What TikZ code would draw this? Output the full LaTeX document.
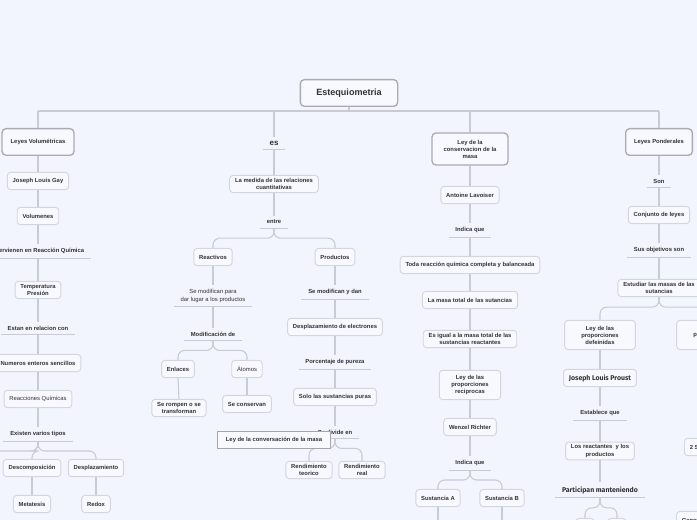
\documentclass[tikz,border=0pt]{standalone}
\usepackage{fontspec}
\setmainfont{Liberation Sans}
\newfontfamily\fira{Fira Sans}
\definecolor{bg}{HTML}{F2F5FD}
\definecolor{boxc}{HTML}{D3D6DE}
\definecolor{boxf}{HTML}{F7F9FF}
\definecolor{linec}{HTML}{C8CBD3}
\definecolor{txt}{HTML}{333333}
\tikzset{
 bx/.style={draw=boxc,fill=boxf,rounded corners=2.5pt,line width=0.7pt,inner xsep=4pt,inner ysep=2pt,minimum height=13pt,align=center,font=\fontsize{4.4}{5.3}\selectfont\bfseries,text=txt},
 bxn/.style={bx,font=\fontsize{4.4}{5.3}\selectfont},
 big/.style={bx,draw=boxc!80!black,line width=1pt,rounded corners=3pt,minimum height=20pt},
 lbl/.style={inner xsep=5pt,inner ysep=3pt,align=center,font=\fontsize{4.4}{5.3}\selectfont\bfseries,text=txt,
   append after command={(\tikzlastnode.south west) edge[draw=linec,line width=0.7pt] (\tikzlastnode.south east)}},
 conn/.style={draw=linec,line width=0.8pt,rounded corners=5pt},
}
\newcommand{\cn}[2]{\draw[conn] (#1.south) -- (#2.north);}
\newcommand{\fk}[3]{\draw[conn] (#1.south) -- ++(0,#3) -| (#2.north);}
\begin{document}
\begin{tikzpicture}[x=0.75pt,y=-0.75pt]
\fill[bg] (0,0) rectangle (697,520);
\useasboundingbox (0,0) rectangle (697,520);
\begin{scope}
\clip (0,0) rectangle (697,520);
% root
\node[big,font=\fontsize{6.8}{8}\selectfont\bfseries,minimum width=73pt] (root) at (349,93) {Estequiometria};
\node[big,minimum width=54pt] (lv) at (38,142) {Leyes Volumétricas};
\node[lbl,font=\fontsize{6}{7}\selectfont\bfseries] (es) at (274,143) {es};
\node[big,minimum width=57pt,minimum height=24pt] (lcm) at (470,149) {Ley de la\\conservacion de la\\masa};
\node[big,minimum width=50pt] (lp) at (659,142) {Leyes Ponderales};
\draw[conn,rounded corners=0] (root.south) -- (349,111);
\draw[conn,rounded corners=0] (38,111) -- (659,111);
\foreach \n/\x in {lv/38,es/274,lcm/470,lp/659} \draw[conn,rounded corners=0] (\x,111) -- (\n.north);
% column 1
\node[bx] (jlg) at (38,181) {Joseph Louis Gay};
\node[bx] (vol) at (38,216) {Volumenes};
\node[lbl] (int) at (38,251) {Intervienen en Reacción Química};
\node[bx] (tp) at (38,290) {Temperatura\\Presión};
\node[lbl] (erc) at (38,328) {Estan en relacion con};
\node[bx] (nes) at (38,363) {Numeros enteros sencillos};
\node[bxn] (rq) at (38,399) {Reacciones Químicas};
\node[lbl] (evt) at (38,434) {Existen varios tipos};
\node[bx] (des) at (32,468) {Descomposición};
\node[bx] (dsp) at (96,468) {Desplazamiento};
\node[bx] (met) at (32,504) {Metatesis};
\node[bx] (red) at (96,504) {Redox};
\cn{lv}{jlg}\cn{jlg}{vol}\cn{vol}{int}\cn{int}{tp}\cn{tp}{erc}\cn{erc}{nes}\cn{nes}{rq}\cn{rq}{evt}
\fk{evt}{des}{10}\fk{evt}{dsp}{10}\draw[conn] (evt.south) -- ++(0,10) -| (-10,470);
\cn{des}{met}\cn{dsp}{red}
% column 2
\node[bx] (lmr) at (274,184) {La medida de las relaciones\\cuantitativas};
\node[lbl] (ent) at (274,222) {entre};
\node[bx] (rea) at (213,257) {Reactivos};
\node[bx] (pro) at (335,257) {Productos};
\node[lbl,font=\fontsize{4.4}{5.3}\selectfont] (smp) at (213,296) {Se modifican para\\dar lugar a los productos};
\node[lbl] (mod) at (213,334) {Modificación de};
\node[bx] (enl) at (178,369) {Enlaces};
\node[bxn] (ato) at (247,369) {Átomos};
\node[bx] (srt) at (179,408) {Se rompen o se\\transforman};
\node[bx] (sco) at (247,404) {Se conservan};
\node[lbl] (smd) at (335,292) {Se modifican y dan};
\node[bx] (dde) at (335,327) {Desplazamiento de electrones};
\node[lbl] (pdp) at (335,362) {Porcentaje de pureza};
\node[bx] (slp) at (335,397) {Solo las sustancias puras};
\node[lbl] (sdi) at (335,432) {Se divide en};
\node[bx] (rt) at (309,470) {Rendimiento\\teorico};
\node[bx] (rr) at (362,470) {Rendimiento\\real};
\cn{es}{lmr}\cn{lmr}{ent}\fk{ent}{rea}{10}\fk{ent}{pro}{10}
\cn{rea}{smp}\cn{smp}{mod}\fk{mod}{enl}{10}\fk{mod}{ato}{10}\cn{enl}{srt}\cn{ato}{sco}
\cn{pro}{smd}\cn{smd}{dde}\cn{dde}{pdp}\cn{pdp}{slp}\cn{slp}{sdi}\fk{sdi}{rt}{10}\fk{sdi}{rr}{10}
\node[draw=gray!70,fill=boxf,line width=0.9pt,minimum width=85pt,minimum height=13pt,font=\fontsize{4.4}{5.3}\selectfont\bfseries,text=txt] (lcv) at (274,440) {Ley de la conversación de la masa};
% column 3
\node[bx] (al) at (470,195) {Antoine Lavoiser};
\node[lbl] (iq1) at (470,230) {Indica que};
\node[bx] (trq) at (470,265) {Toda reacción química completa y balanceada};
\node[bx] (mts) at (470,300) {La masa total de las sutancias};
\node[bx] (eim) at (470,339) {Es igual a la masa total de las\\sustancias reactantes};
\node[bx,minimum width=46pt,minimum height=22pt] (lpr) at (470,385) {Ley de las\\proporciones\\reciprocas};
\node[bx] (wr) at (470,427) {Wenzel Richter};
\node[lbl] (iq2) at (470,463) {Indica que};
\node[bx] (sa) at (438,498) {Sustancia A};
\node[bx] (sb) at (502,498) {Sustancia B};
\cn{lcm}{al}\cn{al}{iq1}\cn{iq1}{trq}\cn{trq}{mts}\cn{mts}{eim}\cn{eim}{lpr}\cn{lpr}{wr}\cn{wr}{iq2}
\fk{iq2}{sa}{10}\fk{iq2}{sb}{10}
\draw[conn] (sa.south) -- ++(0,20);\draw[conn] (sb.south) -- ++(0,20);
% column 4
\node[lbl] (son) at (659,181) {Son};
\node[bx] (cdl) at (659,215) {Conjunto de leyes};
\node[lbl] (soj) at (659,250) {Sus objetivos son};
\node[bx] (elm) at (659,288) {Estudiar las masas de las\\sutancias};
\node[bx,minimum width=53pt,minimum height=22pt] (lpd) at (600,335) {Ley de las\\proporciones\\defeinidas};
\node[bx,minimum width=53pt,minimum height=22pt] (rb) at (712,335) {Ley de las\\proporciones\\multiples};
\node[bx,font=\fira\fontsize{5.2}{6}\selectfont\bfseries] (jlp) at (600,378) {Joseph Louis Proust};
\node[lbl] (est) at (600,413) {Establece que};
\node[bx] (lrp) at (600,451) {Los reactantes\ \ y los\\productos};
\node[lbl,font=\fira\fontsize{5.2}{6}\selectfont\bfseries] (pm) at (600,490) {Participan manteniendo};
\node[bx,anchor=west] (s2) at (684,447) {2 Sustancias};
\node[bx,anchor=north west] (gen) at (676,511) {Generan};
\node[bx,minimum width=14pt,anchor=north] (pa) at (585,518) {\ };
\node[bx,minimum width=14pt,anchor=north] (pb) at (617,518) {\ };
\cn{lp}{son}\cn{son}{cdl}\cn{cdl}{soj}\cn{soj}{elm}\fk{elm}{lpd}{10}\fk{elm}{rb}{10}
\cn{lpd}{jlp}\cn{jlp}{est}\cn{est}{lrp}\cn{lrp}{pm}\fk{pm}{pa}{10}\fk{pm}{pb}{10}
\end{scope}
\end{tikzpicture}
\end{document}
